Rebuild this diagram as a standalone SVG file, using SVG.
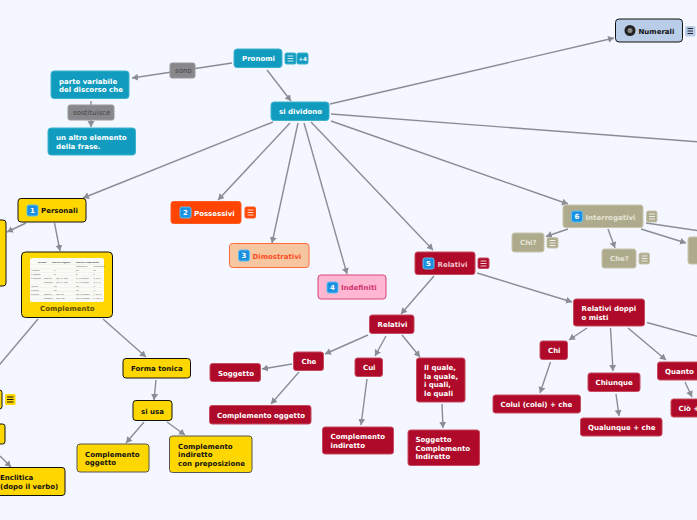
<svg xmlns="http://www.w3.org/2000/svg" width="697" height="520" viewBox="0 0 697 520">
<style>
text{font-family:"DejaVu Sans",sans-serif;font-size:7px;font-weight:700;fill:#fff}
.c path{fill:none;stroke:#8b8d95;stroke-width:1.4;marker-end:url(#a)}
.c path.n{marker-end:none}
rect{stroke-width:1}
.b rect{fill:#119cbf;stroke:#3db3d0}
.g rect{fill:#88888c;stroke:#99999d}
.g text{fill:#444;font-weight:400}
.y rect{fill:#ffd700;stroke:#111}
.y text{fill:#111}
.o rect{fill:#ff4500;stroke:#ff5a20}
.r rect{fill:#b00a2a;stroke:#c64a60}
.t rect{fill:#aeaa8c;stroke:#c8c5ae}
.t text{fill:#e6e4d6}
.e rect{fill:#1b8fe0;stroke:#5cc0f0}
.e text{font-size:7px;fill:#fff;text-anchor:middle}
.tb text{font-size:1.8px;fill:#444;font-weight:400}
.tb path{stroke:#ddd;stroke-width:.3;fill:none}
</style>
<defs>
<marker id="a" markerUnits="userSpaceOnUse" markerWidth="8" markerHeight="8" refX="6" refY="3.5" orient="auto"><path d="M0 0L6 3.5L0 7Z" fill="#8b8d95"/></marker>
<g id="m"><path d="M2.500 3H8.500M2.500 5.500H8.500M2.500 8H8.500" stroke="#fff" stroke-width="1" fill="none" opacity=".8"/></g>
</defs>
<rect width="697" height="520" fill="#f4f7ff"/>
<g class="c" id="connectors">
<path d="M232 63L132 78"/><path d="M267 70L291 101"/><path d="M91 101V127"/>
<path d="M273 122L83 198"/><path d="M290 123L218 200"/><path d="M298 123L272 243"/><path d="M304 123L347 274"/><path d="M311 122L433 250"/><path d="M331 121L568 204"/><path d="M330 104L614 38"/><path class="n" d="M331 114L700 142"/>
<path d="M26 223L7 232"/><path d="M54.500 223L60 251"/><path d="M103 319L146 357"/><path class="n" d="M38 319L-5 370"/><path d="M156 380L154 400"/><path d="M144 422L126 443"/><path d="M167 422L185 435"/><path d="M0 456L11 467"/>
<path d="M434 276L401 314"/><path d="M477 273L572 302"/><path d="M368 335L325 354"/><path d="M386 336L375 356"/><path d="M402 335L420 357"/><path d="M292 364L262 369"/><path d="M299 372L271 404"/><path d="M367 379L361 425"/><path d="M442 404L443 428"/>
<path d="M587 328L569 340"/><path d="M610.500 328L613 371"/><path d="M628 328L666 360"/><path class="n" d="M647 322.500L700 337"/><path d="M550.500 362L540 393"/><path d="M616 394L619 416"/><path d="M685 382L692 397"/>
<path d="M568 229L546 236.500"/><path d="M608 229L615 248"/><path d="M641 229L686 243"/><path class="n" d="M646 223L700 231"/>
</g>

<g id="pronomi" class="b"><rect x="234" y="49" width="48" height="18.500" rx="3"/><text x="242" y="61">Pronomi</text>
<rect x="285" y="53" width="11" height="11" rx="1.500"/><use href="#m" x="285" y="53"/>
<rect x="297" y="53" width="11" height="11" rx="1.500"/><text x="298.500" y="61" style="font-size:5.500px">+4</text></g>
<g id="sono" class="g"><rect x="170" y="63" width="25" height="15" rx="2"/><text x="175" y="73">sono</text></g>
<g id="parte" class="b"><rect x="51" y="71" width="78" height="27.500" rx="3"/><text x="59" y="84">parte variabile</text><text x="59" y="92">del discorso che</text></g>
<g id="sostituisce" class="g"><rect x="68" y="105" width="46" height="15" rx="2"/><text x="73" y="115">sostituisce</text></g>
<g id="altro" class="b"><rect x="48" y="128" width="87.500" height="27" rx="3"/><text x="56" y="140">un altro elemento</text><text x="56" y="149">della frase.</text></g>
<g id="dividono" class="b"><rect x="271" y="102" width="58" height="18.500" rx="3"/><text x="279" y="114">si dividono</text></g>

<g id="personali" class="y"><rect x="18" y="198.500" width="68" height="23.500" rx="3"/><g class="e"><rect x="27" y="205" width="11" height="11" rx="2"/><text x="32.500" y="213">1</text></g><text x="41" y="213">Personali</text></g>
<g id="possessivi" class="o"><rect x="171" y="201.500" width="70" height="22" rx="2.500"/><g class="e"><rect x="180" y="207" width="11" height="11" rx="2"/><text x="185.500" y="215">2</text></g><text x="194" y="216">Possessivi</text>
<rect x="245" y="207" width="10.500" height="11" rx="1.500"/><use href="#m" x="245" y="207"/></g>
<g id="dimostrativi"><rect x="229.500" y="243.500" width="79.500" height="24" rx="3" fill="#f5c6a0" stroke="#ff6a3d"/><g class="e"><rect x="238.500" y="250" width="11" height="11" rx="2"/><text x="244" y="258">3</text></g><text x="252.500" y="258.500" style="fill:#ff4d1f">Dimostrativi</text></g>
<g id="indefiniti"><rect x="318" y="275" width="68" height="24" rx="3" fill="#ffb6d0" stroke="#d9447a"/><g class="e"><rect x="327" y="282" width="11" height="11" rx="2"/><text x="332.500" y="290">4</text></g><text x="341" y="290" style="fill:#d2336f">Indefiniti</text></g>
<g id="relativi5" class="r"><rect x="415" y="252" width="60" height="22.500" rx="2.500"/><g class="e"><rect x="423" y="258" width="11" height="11" rx="2"/><text x="428.500" y="266">5</text></g><text x="437.500" y="266.500" style="fill:#f3c0cc">Relativi</text>
<rect x="478" y="258" width="11" height="10.500" rx="1.500"/><use href="#m" x="478" y="258"/></g>
<g id="interrogativi" class="t"><rect x="563" y="205" width="80" height="22.500" rx="2.500"/><g class="e"><rect x="571.500" y="211" width="11" height="11" rx="2"/><text x="577" y="219">6</text></g><text x="585.500" y="219.500">Interrogativi</text>
<rect x="646.500" y="211" width="10.500" height="11" rx="1.500"/><use href="#m" x="646.500" y="211"/></g>
<g id="chiq" class="t"><rect x="512" y="233" width="32" height="19" rx="2.500"/><text x="520" y="245">Chi?</text><rect x="547" y="237.500" width="11" height="10.500" rx="1.500"/><use href="#m" x="547" y="237.500"/></g>
<g id="cheq" class="t"><rect x="602" y="249" width="34" height="19" rx="2.500"/><text x="610" y="261">Che?</text><rect x="639" y="253" width="10.500" height="11" rx="1.500"/><use href="#m" x="639" y="253"/></g>
<g id="dove" class="t"><rect x="688" y="237" width="20" height="27" rx="2.500"/></g>
<g id="numerali"><rect x="615.500" y="19" width="67" height="23" rx="3.500" fill="#b9cde8" stroke="#111"/><circle cx="630" cy="30.500" r="5.500" fill="#222"/><circle cx="630" cy="30.500" r="2.500" fill="#888"/><text x="638.500" y="34" style="fill:#111">Numerali</text>
<rect x="685" y="26" width="10.500" height="10.500" rx="1.500" fill="#b9cde8"/><path d="M687.500 28.500H693M687.500 31H693M687.500 33.500H693" stroke="#223" stroke-width="1" fill="none"/></g>

<g id="complemento" class="y"><rect x="21.500" y="252" width="91" height="65.500" rx="4"/>
<rect x="30" y="258" width="74" height="44" rx="2" style="fill:#fbfbf6;stroke:none"/>
<g class="tb"><path d="M30 264.500H104M30 268.500H104M30 272.500H104M30 276H104M30 280H104M30 284H104M30 287.500H104M30 291.500H104M30 295.500H104M30 299H104"/>
<text x="38" y="262.500" style="font-weight:700">pronomi</text><text x="52" y="262.500" style="font-weight:700">funzione soggetto</text><text x="76" y="262.500" style="font-weight:700">funzione complemento</text>
<text x="76" y="267">forma tonica</text><text x="93.500" y="267">forma atona</text>
<text x="31" y="271">I singolare</text><text x="54" y="271">io</text><text x="76" y="271">me</text><text x="93.500" y="271">mi</text>
<text x="31" y="275">II singolare</text><text x="54" y="275">tu</text><text x="76" y="275">te</text><text x="93.500" y="275">ti</text>
<text x="31" y="279">III singolare</text><text x="44" y="279">maschile</text><text x="56" y="279">egli, lui, esso</text><text x="76" y="279">lui, sé (stesso)</text><text x="93.500" y="279">lo, gli, si</text>
<text x="44" y="283">femminile</text><text x="56" y="283">ella, lei, essa</text><text x="76" y="283">lei, sé (stessa)</text><text x="93.500" y="283">la, le, si</text>
<text x="31" y="287">I plurale</text><text x="54" y="287">noi</text><text x="76" y="287">noi</text><text x="93.500" y="287">ci</text>
<text x="31" y="291">II plurale</text><text x="54" y="291">voi</text><text x="76" y="291">voi</text><text x="93.500" y="291">vi</text>
<text x="31" y="295">III plurale</text><text x="44" y="295">maschile</text><text x="56" y="295">essi, loro</text><text x="76" y="295">loro, sé (stessi)</text><text x="93.500" y="295">li, loro, si</text>
<text x="44" y="299">femminile</text><text x="56" y="299">esse, loro</text><text x="76" y="299">loro, sé (stesse)</text><text x="93.500" y="299">le, loro, si</text></g>
<text x="40" y="311" style="fill:#5a4a00">Complemento</text></g>
<g id="sinistra1" class="y"><rect x="-6" y="220" width="12" height="66" rx="3"/></g>
<g id="sinistra2" class="y"><rect x="-6" y="390" width="8" height="19" rx="2.500"/><rect x="5" y="394" width="10.500" height="11" rx="1.500" style="stroke:none"/><path d="M7 397H13.500M7 399.500H13.500M7 402H13.500" stroke="#111" stroke-width="1" fill="none"/></g>
<g id="sinistra3" class="y"><rect x="-6" y="424" width="11" height="20" rx="2.500"/></g>
<g id="enclitica" class="y"><rect x="-6" y="467.500" width="71" height="28" rx="3"/><text x="0" y="480">Enclitica</text><text x="0" y="489">(dopo il verbo)</text></g>
<g id="forma" class="y"><rect x="123" y="358.500" width="67.500" height="19.500" rx="3"/><text x="131" y="371">Forma tonica</text></g>
<g id="siusa" class="y"><rect x="133" y="400.500" width="39" height="20" rx="3"/><text x="141" y="414">si usa</text></g>
<g id="coggy" class="y"><rect x="77" y="444" width="72" height="28" rx="3" style="stroke:#555"/><text x="85" y="457">Complemento</text><text x="85" y="465">oggetto</text></g>
<g id="cindy" class="y"><rect x="169.500" y="436" width="82.500" height="36.500" rx="3" style="stroke:#555"/><text x="178" y="449">Complemento</text><text x="178" y="457">indiretto</text><text x="178" y="466">con preposizione</text></g>

<g id="relativi" class="r"><rect x="369.500" y="315" width="44.500" height="18.500" rx="2.500"/><text x="377.500" y="327">Relativi</text></g>
<g id="che" class="r"><rect x="293.500" y="352" width="30" height="18.500" rx="2.500"/><text x="301.500" y="364">Che</text></g>
<g id="soggetto" class="r"><rect x="210" y="363.500" width="50.500" height="18" rx="2.500"/><text x="218" y="376">Soggetto</text></g>
<g id="coggr" class="r"><rect x="209.500" y="405.500" width="101.500" height="18.500" rx="2.500"/><text x="217" y="418">Complemento oggetto</text></g>
<g id="cui" class="r"><rect x="355" y="358" width="27.500" height="18.500" rx="2.500"/><text x="363" y="370">Cui</text></g>
<g id="cindr" class="r"><rect x="322.500" y="427" width="71" height="27" rx="2.500"/><text x="330.500" y="439">Complemento</text><text x="330.500" y="448">indiretto</text></g>
<g id="ilquale" class="r"><rect x="416.500" y="358" width="48.500" height="44" rx="2.500"/><text x="424" y="370">Il quale,</text><text x="424" y="379">la quale,</text><text x="424" y="387">i quali,</text><text x="424" y="396">le quali</text></g>
<g id="soggci" class="r"><rect x="408" y="430" width="71.500" height="35.500" rx="2.500"/><text x="415.500" y="442">Soggetto</text><text x="415.500" y="451">Complemento</text><text x="415.500" y="459">Indiretto</text></g>
<g id="doppi" class="r"><rect x="573.500" y="299" width="71" height="27" rx="2.500"/><text x="581.500" y="311">Relativi doppi</text><text x="581.500" y="320">o misti</text></g>
<g id="chi" class="r"><rect x="540" y="341" width="27.500" height="18.500" rx="2.500"/><text x="548" y="353">Chi</text></g>
<g id="chiunque" class="r"><rect x="588" y="373" width="52" height="18.500" rx="2.500"/><text x="595.500" y="385">Chiunque</text></g>
<g id="quanto" class="r"><rect x="657.500" y="362" width="45" height="18" rx="2.500"/><text x="665" y="374">Quanto</text></g>
<g id="colui" class="r"><rect x="493" y="395" width="87.500" height="18" rx="2.500"/><text x="500.500" y="407">Colui (colei) + che</text></g>
<g id="qualunque" class="r"><rect x="580.500" y="418" width="81.500" height="18" rx="2.500"/><text x="588" y="430">Qualunque + che</text></g>
<g id="cio" class="r"><rect x="671" y="399" width="35" height="18" rx="2.500"/><text x="678.500" y="411">Ciò +</text></g>
</svg>
